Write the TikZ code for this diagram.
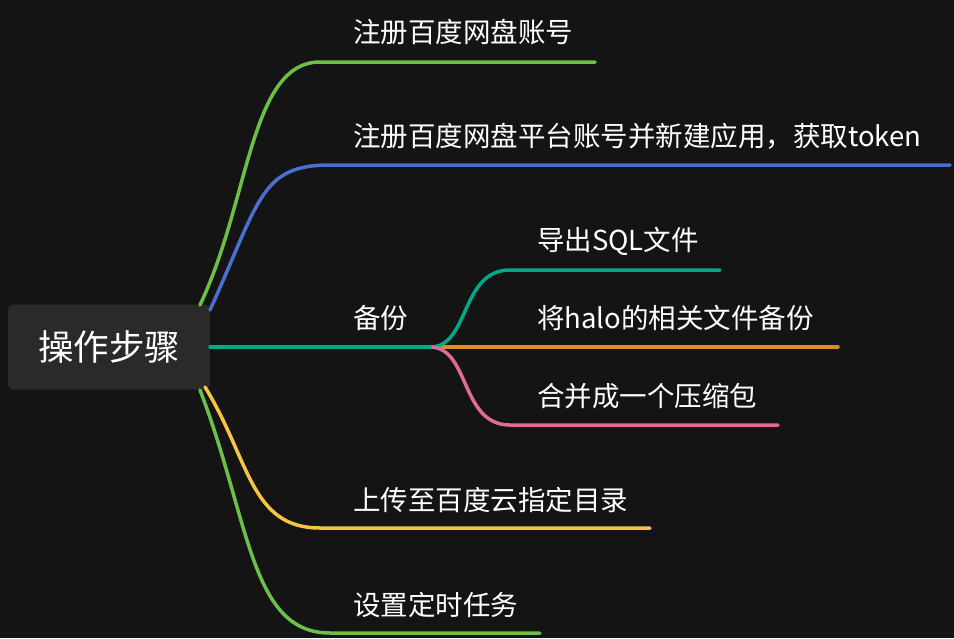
\documentclass[tikz,border=0pt]{standalone}
\usepackage{fontspec}
\setmainfont{Noto Sans CJK SC}
\definecolor{bg}{HTML}{141414}
\definecolor{rootc}{HTML}{2A2A2A}
\definecolor{cgreen}{HTML}{6CC04A}
\definecolor{cblue}{HTML}{4A6FD0}
\definecolor{cteal}{HTML}{00A98A}
\definecolor{corange}{HTML}{E08A2A}
\definecolor{cpink}{HTML}{E06A9A}
\definecolor{cyellow}{HTML}{F5C542}
\begin{document}
\begin{tikzpicture}[x=1pt,y=-1pt,
  lbl/.style={text=white,anchor=west,font=\fontsize{27.5}{30}\selectfont,inner sep=0pt},
  br/.style={line width=3.5pt,line cap=round}]
\fill[bg] (0,0) rectangle (954,638);
\useasboundingbox (0,0) rectangle (954,638);
\node[fill=rootc,rounded corners=6pt,minimum width=202pt,minimum height=85pt,text=white,font=\fontsize{35.5}{40}\selectfont] (root) at (109,347) {操作步骤};
\coordinate (r1) at (200,305); \coordinate (e1) at (595,62); \coordinate (m1) at (320,62);
\coordinate (r2) at (210,310); \coordinate (m2) at (330,165); \coordinate (e2) at (950,165);
\coordinate (r3) at (210,347); \coordinate (h3) at (430,347);
\coordinate (m31) at (510,270); \coordinate (e31) at (720,270);
\coordinate (e32) at (838,347);
\coordinate (m33) at (510,425); \coordinate (e33) at (778,425);
\coordinate (r4) at (205,387); \coordinate (m4) at (320,528); \coordinate (e4) at (650,528);
\coordinate (r5) at (200,390); \coordinate (m5) at (330,633); \coordinate (e5) at (540,633);
\draw[br,cgreen] (r1) .. controls (250,200) and (250,62) .. (m1) -- (e1);
\draw[br,cblue] (r2) .. controls (260,200) and (260,165) .. (m2) -- (e2);
\draw[br,corange] (h3) -- (e32);
\draw[br,cteal] (h3) .. controls (470,347) and (460,270) .. (m31) -- (e31);
\draw[br,cpink] (h3) .. controls (470,347) and (460,425) .. (m33) -- (e33);
\draw[br,cteal] (r3) -- (h3);
\draw[br,cyellow] (r4) .. controls (250,460) and (250,528) .. (m4) -- (e4);
\draw[br,cgreen] (r5) .. controls (250,520) and (250,633) .. (m5) -- (e5);
\node[lbl] (t1) at (353,32) {注册百度网盘账号};
\node[lbl] (t2) at (353,136) {注册百度网盘平台账号并新建应用，获取token};
\node[lbl] (t3) at (353,318) {备份};
\node[lbl] (t31) at (537,241) {导出SQL文件};
\node[lbl] (t32) at (537,318) {将halo的相关文件备份};
\node[lbl] (t33) at (537,396) {合并成一个压缩包};
\node[lbl] (t4) at (353,500) {上传至百度云指定目录};
\node[lbl] (t5) at (353,605) {设置定时任务};
\end{tikzpicture}
\end{document}
